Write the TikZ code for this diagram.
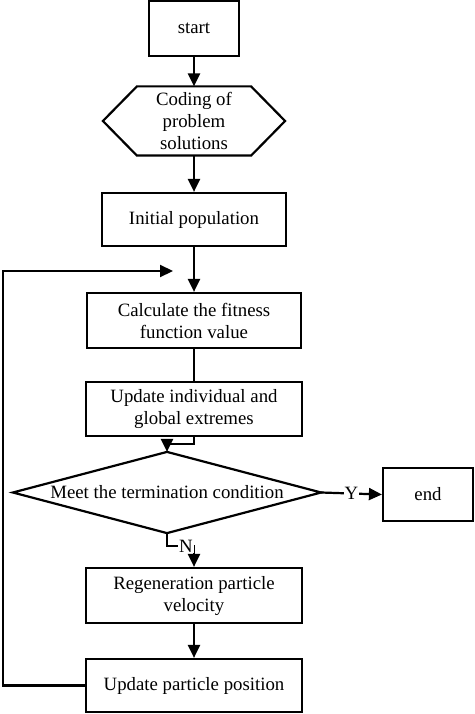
\documentclass[tikz,border=0pt]{standalone}
\usepackage{fontspec}
\setmainfont{Liberation Serif}
\usetikzlibrary{arrows.meta}
\begin{document}
\begin{tikzpicture}[x=1pt,y=-1pt,
  line width=2.2pt,
  every node/.style={font=\fontsize{18.8}{22}\selectfont, align=center, inner sep=0pt},
  box/.style={draw, rectangle, line width=2.2pt},
  plain/.style={rectangle},
  arr/.style={-{Triangle[length=13pt,width=12pt]}},
  lbl/.style={fill=white, inner sep=1pt}
]
\useasboundingbox (0,0) rectangle (474,714);
% nodes
\node[box, minimum width=90pt, minimum height=55pt] (start) at (194,28.5) {start};
\node[plain, minimum width=180pt, minimum height=67pt] (code) at (194,121) {Coding of\\problem\\solutions};
\draw (code.west) -- ([xshift=34pt]code.north west) -- ([xshift=-34pt]code.north east) -- (code.east) -- ([xshift=-34pt]code.south east) -- ([xshift=34pt]code.south west) -- cycle;
\node[box, minimum width=184pt, minimum height=53pt] (init) at (194,219.5) {Initial population};
\node[box, minimum width=214pt, minimum height=55pt] (calc) at (194,320.5) {Calculate the fitness\\function value};
\node[box, minimum width=216pt, minimum height=54pt] (upd) at (194,409) {Update individual and\\global extremes};
\node[plain, minimum width=306pt, minimum height=79pt] (dec) at (167,492.5) {Meet the termination condition};
\draw (dec.north) -- (dec.east) -- (dec.south) -- (dec.west) -- cycle;
\node[box, minimum width=90pt, minimum height=53pt] (end) at (428,494.5) {end};
\node[box, minimum width=216pt, minimum height=55pt] (regen) at (194,595.5) {Regeneration particle\\velocity};
\node[box, minimum width=216pt, minimum height=53pt] (pos) at (194,685.5) {Update particle position};
\coordinate (loopin) at (173,271);
% connectors
\draw[arr] (start.south) -- (code.north);
\draw[arr] (code.south) -- (init.north);
\draw[arr] (init.south) -- (calc.north);
\draw (calc.south) -- (upd.north);
\draw[arr] (upd.south) -- ++(0,7) -| (dec.north);
\draw[arr] (dec.east) -- node[lbl] {Y} (end.west);
\draw[arr] (dec.south) -- ++(0,13) -| node[lbl, pos=0.35] {N} (regen.north);
\draw[arr] (regen.south) -- (pos.north);
\draw[arr] (pos.west) -| (3,271) -- (loopin);
\end{tikzpicture}
\end{document}
